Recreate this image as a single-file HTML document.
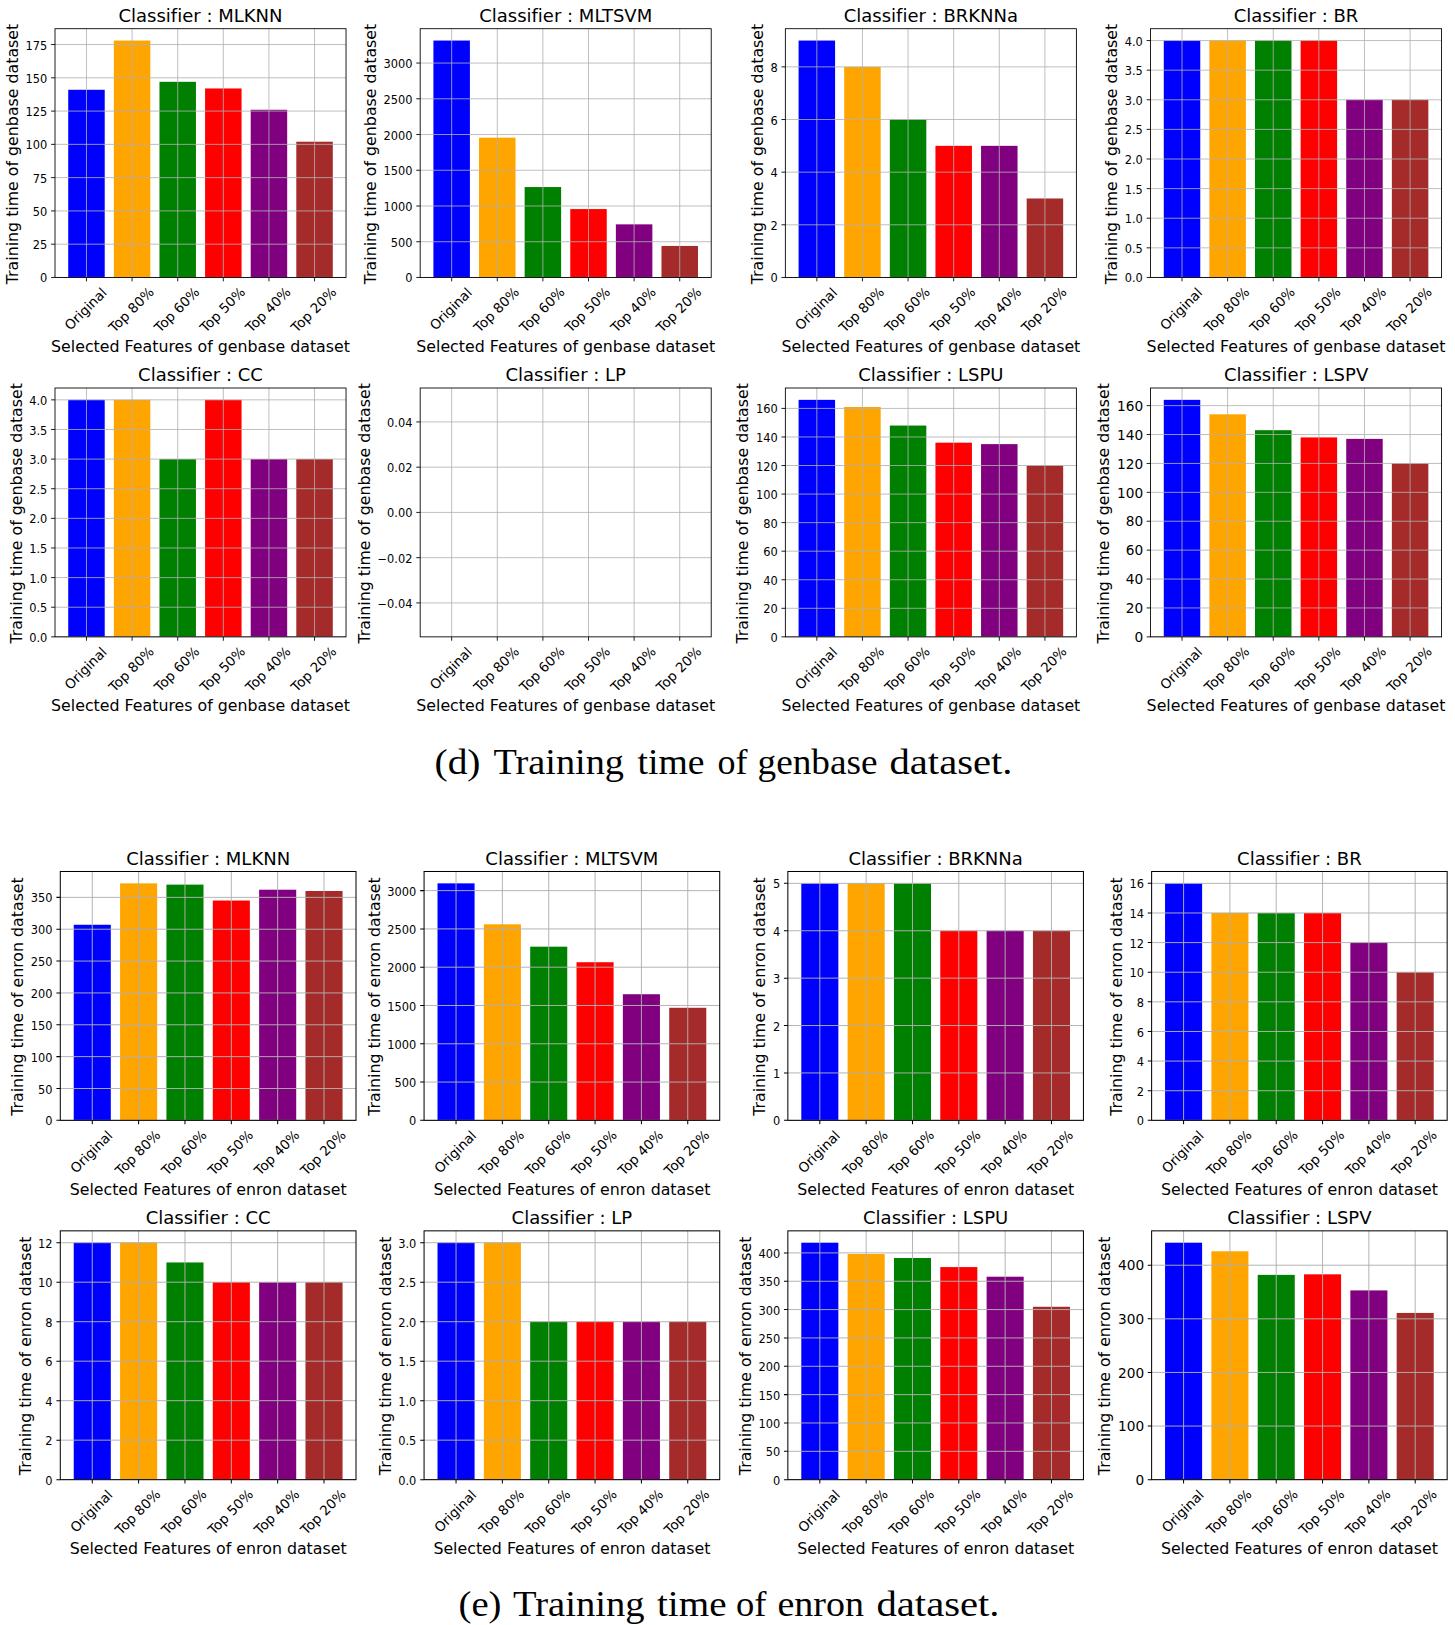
<!DOCTYPE html>
<html lang="en"><head><meta charset="utf-8"><title>Training time figures</title>
<style>
html,body{margin:0;padding:0;background:#fff;}
body{width:1455px;height:1625px;overflow:hidden;}
svg{display:block;}
svg text{font-family:"DejaVu Sans","Liberation Sans",sans-serif;fill:#000;font-variant-ligatures:none;font-kerning:normal;}
svg .cap text{font-family:"Liberation Serif","DejaVu Serif",serif;}
</style></head><body>
<svg width="1455" height="1625" viewBox="0 0 1455 1625">
<rect width="1455" height="1625" fill="#fff"/>
<g>
<rect x="68.23" y="89.79" width="36.49" height="187.67" fill="#0000ff"/>
<rect x="113.84" y="40.55" width="36.49" height="236.91" fill="#ffa500"/>
<rect x="159.46" y="81.81" width="36.49" height="195.65" fill="#008000"/>
<rect x="205.08" y="88.46" width="36.49" height="189.00" fill="#ff0000"/>
<rect x="250.69" y="109.76" width="36.49" height="167.70" fill="#800080"/>
<rect x="296.31" y="141.70" width="36.49" height="135.76" fill="#a52a2a"/>
<path d="M86.48 28.70V277.46M132.09 28.70V277.46M177.71 28.70V277.46M223.32 28.70V277.46M268.94 28.70V277.46M314.55 28.70V277.46M55.00 277.46H346.03M55.00 244.19H346.03M55.00 210.91H346.03M55.00 177.64H346.03M55.00 144.36H346.03M55.00 111.09H346.03M55.00 77.81H346.03M55.00 44.54H346.03" stroke="#b0b0b0" stroke-width="0.82" fill="none"/>
<path d="M86.48 277.46v3.90M132.09 277.46v3.90M177.71 277.46v3.90M223.32 277.46v3.90M268.94 277.46v3.90M314.55 277.46v3.90M55.00 277.46h-3.90M55.00 244.19h-3.90M55.00 210.91h-3.90M55.00 177.64h-3.90M55.00 144.36h-3.90M55.00 111.09h-3.90M55.00 77.81h-3.90M55.00 44.54h-3.90" stroke="#000" stroke-width="0.88" fill="none"/>
<rect x="55.00" y="28.70" width="291.03" height="248.76" fill="none" stroke="#000" stroke-width="0.88"/>
<g font-size="11.4" text-anchor="end">
<text x="47.30" y="282.49">0</text>
<text x="47.30" y="249.22">25</text>
<text x="47.30" y="215.94">50</text>
<text x="47.30" y="182.67">75</text>
<text x="47.30" y="149.39">100</text>
<text x="47.30" y="116.12">125</text>
<text x="47.30" y="82.84">150</text>
<text x="47.30" y="49.57">175</text>
</g>
<g font-size="13.5" text-anchor="middle">
<text transform="translate(86.48 309.82) rotate(-45)" y="3.54">Original</text>
<text transform="translate(132.09 310.63) rotate(-45)" y="3.54">Top 80%</text>
<text transform="translate(177.71 310.63) rotate(-45)" y="3.54">Top 60%</text>
<text transform="translate(223.32 310.63) rotate(-45)" y="3.54">Top 50%</text>
<text transform="translate(268.94 310.63) rotate(-45)" y="3.54">Top 40%</text>
<text transform="translate(314.55 310.63) rotate(-45)" y="3.54">Top 20%</text>
</g>
<text x="200.51" y="21.80" font-size="18.0" text-anchor="middle">Classifier : MLKNN</text>
<text x="200.51" y="351.96" font-size="15.8" text-anchor="middle">Selected Features of genbase dataset</text>
<text transform="translate(18.01 153.98) rotate(-90)" font-size="15.8" text-anchor="middle">Training time of genbase dataset</text>
</g>
<g>
<rect x="433.41" y="40.55" width="36.49" height="236.91" fill="#0000ff"/>
<rect x="479.02" y="137.67" width="36.49" height="139.79" fill="#ffa500"/>
<rect x="524.64" y="187.05" width="36.49" height="90.41" fill="#008000"/>
<rect x="570.26" y="209.07" width="36.49" height="68.39" fill="#ff0000"/>
<rect x="615.87" y="224.36" width="36.49" height="53.10" fill="#800080"/>
<rect x="661.49" y="245.94" width="36.49" height="31.52" fill="#a52a2a"/>
<path d="M451.66 28.70V277.46M497.27 28.70V277.46M542.89 28.70V277.46M588.50 28.70V277.46M634.12 28.70V277.46M679.73 28.70V277.46M420.18 277.46H711.21M420.18 241.73H711.21M420.18 205.99H711.21M420.18 170.26H711.21M420.18 134.53H711.21M420.18 98.79H711.21M420.18 63.06H711.21" stroke="#b0b0b0" stroke-width="0.82" fill="none"/>
<path d="M451.66 277.46v3.90M497.27 277.46v3.90M542.89 277.46v3.90M588.50 277.46v3.90M634.12 277.46v3.90M679.73 277.46v3.90M420.18 277.46h-3.90M420.18 241.73h-3.90M420.18 205.99h-3.90M420.18 170.26h-3.90M420.18 134.53h-3.90M420.18 98.79h-3.90M420.18 63.06h-3.90" stroke="#000" stroke-width="0.88" fill="none"/>
<rect x="420.18" y="28.70" width="291.03" height="248.76" fill="none" stroke="#000" stroke-width="0.88"/>
<g font-size="11.4" text-anchor="end">
<text x="412.48" y="282.49">0</text>
<text x="412.48" y="246.76">500</text>
<text x="412.48" y="211.02">1000</text>
<text x="412.48" y="175.29">1500</text>
<text x="412.48" y="139.56">2000</text>
<text x="412.48" y="103.82">2500</text>
<text x="412.48" y="68.09">3000</text>
</g>
<g font-size="13.5" text-anchor="middle">
<text transform="translate(451.66 309.82) rotate(-45)" y="3.54">Original</text>
<text transform="translate(497.27 310.63) rotate(-45)" y="3.54">Top 80%</text>
<text transform="translate(542.89 310.63) rotate(-45)" y="3.54">Top 60%</text>
<text transform="translate(588.50 310.63) rotate(-45)" y="3.54">Top 50%</text>
<text transform="translate(634.12 310.63) rotate(-45)" y="3.54">Top 40%</text>
<text transform="translate(679.73 310.63) rotate(-45)" y="3.54">Top 20%</text>
</g>
<text x="565.70" y="21.80" font-size="18.0" text-anchor="middle">Classifier : MLTSVM</text>
<text x="565.70" y="351.96" font-size="15.8" text-anchor="middle">Selected Features of genbase dataset</text>
<text transform="translate(375.94 153.98) rotate(-90)" font-size="15.8" text-anchor="middle">Training time of genbase dataset</text>
</g>
<g>
<rect x="798.59" y="40.55" width="36.49" height="236.91" fill="#0000ff"/>
<rect x="844.20" y="66.87" width="36.49" height="210.59" fill="#ffa500"/>
<rect x="889.82" y="119.52" width="36.49" height="157.94" fill="#008000"/>
<rect x="935.44" y="145.84" width="36.49" height="131.62" fill="#ff0000"/>
<rect x="981.05" y="145.84" width="36.49" height="131.62" fill="#800080"/>
<rect x="1026.67" y="198.49" width="36.49" height="78.97" fill="#a52a2a"/>
<path d="M816.84 28.70V277.46M862.45 28.70V277.46M908.07 28.70V277.46M953.68 28.70V277.46M999.30 28.70V277.46M1044.91 28.70V277.46M785.36 277.46H1076.39M785.36 224.81H1076.39M785.36 172.16H1076.39M785.36 119.52H1076.39M785.36 66.87H1076.39" stroke="#b0b0b0" stroke-width="0.82" fill="none"/>
<path d="M816.84 277.46v3.90M862.45 277.46v3.90M908.07 277.46v3.90M953.68 277.46v3.90M999.30 277.46v3.90M1044.91 277.46v3.90M785.36 277.46h-3.90M785.36 224.81h-3.90M785.36 172.16h-3.90M785.36 119.52h-3.90M785.36 66.87h-3.90" stroke="#000" stroke-width="0.88" fill="none"/>
<rect x="785.36" y="28.70" width="291.03" height="248.76" fill="none" stroke="#000" stroke-width="0.88"/>
<g font-size="11.4" text-anchor="end">
<text x="777.66" y="282.49">0</text>
<text x="777.66" y="229.84">2</text>
<text x="777.66" y="177.19">4</text>
<text x="777.66" y="124.55">6</text>
<text x="777.66" y="71.90">8</text>
</g>
<g font-size="13.5" text-anchor="middle">
<text transform="translate(816.84 309.82) rotate(-45)" y="3.54">Original</text>
<text transform="translate(862.45 310.63) rotate(-45)" y="3.54">Top 80%</text>
<text transform="translate(908.07 310.63) rotate(-45)" y="3.54">Top 60%</text>
<text transform="translate(953.68 310.63) rotate(-45)" y="3.54">Top 50%</text>
<text transform="translate(999.30 310.63) rotate(-45)" y="3.54">Top 40%</text>
<text transform="translate(1044.91 310.63) rotate(-45)" y="3.54">Top 20%</text>
</g>
<text x="930.88" y="21.80" font-size="18.0" text-anchor="middle">Classifier : BRKNNa</text>
<text x="930.88" y="351.96" font-size="15.8" text-anchor="middle">Selected Features of genbase dataset</text>
<text transform="translate(762.87 153.98) rotate(-90)" font-size="15.8" text-anchor="middle">Training time of genbase dataset</text>
</g>
<g>
<rect x="1163.77" y="40.55" width="36.49" height="236.91" fill="#0000ff"/>
<rect x="1209.38" y="40.55" width="36.49" height="236.91" fill="#ffa500"/>
<rect x="1255.00" y="40.55" width="36.49" height="236.91" fill="#008000"/>
<rect x="1300.62" y="40.55" width="36.49" height="236.91" fill="#ff0000"/>
<rect x="1346.23" y="99.77" width="36.49" height="177.69" fill="#800080"/>
<rect x="1391.85" y="99.77" width="36.49" height="177.69" fill="#a52a2a"/>
<path d="M1182.02 28.70V277.46M1227.63 28.70V277.46M1273.25 28.70V277.46M1318.86 28.70V277.46M1364.48 28.70V277.46M1410.09 28.70V277.46M1150.54 277.46H1441.57M1150.54 247.85H1441.57M1150.54 218.23H1441.57M1150.54 188.62H1441.57M1150.54 159.00H1441.57M1150.54 129.39H1441.57M1150.54 99.77H1441.57M1150.54 70.16H1441.57M1150.54 40.55H1441.57" stroke="#b0b0b0" stroke-width="0.82" fill="none"/>
<path d="M1182.02 277.46v3.90M1227.63 277.46v3.90M1273.25 277.46v3.90M1318.86 277.46v3.90M1364.48 277.46v3.90M1410.09 277.46v3.90M1150.54 277.46h-3.90M1150.54 247.85h-3.90M1150.54 218.23h-3.90M1150.54 188.62h-3.90M1150.54 159.00h-3.90M1150.54 129.39h-3.90M1150.54 99.77h-3.90M1150.54 70.16h-3.90M1150.54 40.55h-3.90" stroke="#000" stroke-width="0.88" fill="none"/>
<rect x="1150.54" y="28.70" width="291.03" height="248.76" fill="none" stroke="#000" stroke-width="0.88"/>
<g font-size="11.4" text-anchor="end">
<text x="1142.84" y="282.49">0.0</text>
<text x="1142.84" y="252.88">0.5</text>
<text x="1142.84" y="223.26">1.0</text>
<text x="1142.84" y="193.65">1.5</text>
<text x="1142.84" y="164.03">2.0</text>
<text x="1142.84" y="134.42">2.5</text>
<text x="1142.84" y="104.80">3.0</text>
<text x="1142.84" y="75.19">3.5</text>
<text x="1142.84" y="45.58">4.0</text>
</g>
<g font-size="13.5" text-anchor="middle">
<text transform="translate(1182.02 309.82) rotate(-45)" y="3.54">Original</text>
<text transform="translate(1227.63 310.63) rotate(-45)" y="3.54">Top 80%</text>
<text transform="translate(1273.25 310.63) rotate(-45)" y="3.54">Top 60%</text>
<text transform="translate(1318.86 310.63) rotate(-45)" y="3.54">Top 50%</text>
<text transform="translate(1364.48 310.63) rotate(-45)" y="3.54">Top 40%</text>
<text transform="translate(1410.09 310.63) rotate(-45)" y="3.54">Top 20%</text>
</g>
<text x="1296.05" y="21.80" font-size="18.0" text-anchor="middle">Classifier : BR</text>
<text x="1296.05" y="351.96" font-size="15.8" text-anchor="middle">Selected Features of genbase dataset</text>
<text transform="translate(1117.17 153.98) rotate(-90)" font-size="15.8" text-anchor="middle">Training time of genbase dataset</text>
</g>
<g>
<rect x="68.23" y="399.85" width="36.49" height="237.00" fill="#0000ff"/>
<rect x="113.84" y="399.85" width="36.49" height="237.00" fill="#ffa500"/>
<rect x="159.46" y="459.10" width="36.49" height="177.75" fill="#008000"/>
<rect x="205.08" y="399.85" width="36.49" height="237.00" fill="#ff0000"/>
<rect x="250.69" y="459.10" width="36.49" height="177.75" fill="#800080"/>
<rect x="296.31" y="459.10" width="36.49" height="177.75" fill="#a52a2a"/>
<path d="M86.48 388.00V636.85M132.09 388.00V636.85M177.71 388.00V636.85M223.32 388.00V636.85M268.94 388.00V636.85M314.55 388.00V636.85M55.00 636.85H346.03M55.00 607.23H346.03M55.00 577.60H346.03M55.00 547.98H346.03M55.00 518.35H346.03M55.00 488.73H346.03M55.00 459.10H346.03M55.00 429.48H346.03M55.00 399.85H346.03" stroke="#b0b0b0" stroke-width="0.82" fill="none"/>
<path d="M86.48 636.85v3.90M132.09 636.85v3.90M177.71 636.85v3.90M223.32 636.85v3.90M268.94 636.85v3.90M314.55 636.85v3.90M55.00 636.85h-3.90M55.00 607.23h-3.90M55.00 577.60h-3.90M55.00 547.98h-3.90M55.00 518.35h-3.90M55.00 488.73h-3.90M55.00 459.10h-3.90M55.00 429.48h-3.90M55.00 399.85h-3.90" stroke="#000" stroke-width="0.88" fill="none"/>
<rect x="55.00" y="388.00" width="291.03" height="248.85" fill="none" stroke="#000" stroke-width="0.88"/>
<g font-size="11.4" text-anchor="end">
<text x="47.30" y="641.88">0.0</text>
<text x="47.30" y="612.25">0.5</text>
<text x="47.30" y="582.63">1.0</text>
<text x="47.30" y="553.00">1.5</text>
<text x="47.30" y="523.38">2.0</text>
<text x="47.30" y="493.75">2.5</text>
<text x="47.30" y="464.13">3.0</text>
<text x="47.30" y="434.50">3.5</text>
<text x="47.30" y="404.88">4.0</text>
</g>
<g font-size="13.5" text-anchor="middle">
<text transform="translate(86.48 669.21) rotate(-45)" y="3.54">Original</text>
<text transform="translate(132.09 670.02) rotate(-45)" y="3.54">Top 80%</text>
<text transform="translate(177.71 670.02) rotate(-45)" y="3.54">Top 60%</text>
<text transform="translate(223.32 670.02) rotate(-45)" y="3.54">Top 50%</text>
<text transform="translate(268.94 670.02) rotate(-45)" y="3.54">Top 40%</text>
<text transform="translate(314.55 670.02) rotate(-45)" y="3.54">Top 20%</text>
</g>
<text x="200.51" y="381.10" font-size="18.0" text-anchor="middle">Classifier : CC</text>
<text x="200.51" y="711.35" font-size="15.8" text-anchor="middle">Selected Features of genbase dataset</text>
<text transform="translate(21.63 513.32) rotate(-90)" font-size="15.8" text-anchor="middle">Training time of genbase dataset</text>
</g>
<g>
<path d="M451.66 388.00V636.85M497.27 388.00V636.85M542.89 388.00V636.85M588.50 388.00V636.85M634.12 388.00V636.85M679.73 388.00V636.85M420.18 602.92H711.21M420.18 557.67H711.21M420.18 512.42H711.21M420.18 467.18H711.21M420.18 421.93H711.21" stroke="#b0b0b0" stroke-width="0.82" fill="none"/>
<path d="M451.66 636.85v3.90M497.27 636.85v3.90M542.89 636.85v3.90M588.50 636.85v3.90M634.12 636.85v3.90M679.73 636.85v3.90M420.18 602.92h-3.90M420.18 557.67h-3.90M420.18 512.42h-3.90M420.18 467.18h-3.90M420.18 421.93h-3.90" stroke="#000" stroke-width="0.88" fill="none"/>
<rect x="420.18" y="388.00" width="291.03" height="248.85" fill="none" stroke="#000" stroke-width="0.88"/>
<g font-size="11.4" text-anchor="end">
<text x="412.48" y="607.95">−0.04</text>
<text x="412.48" y="562.70">−0.02</text>
<text x="412.48" y="517.45">0.00</text>
<text x="412.48" y="472.21">0.02</text>
<text x="412.48" y="426.96">0.04</text>
</g>
<g font-size="13.5" text-anchor="middle">
<text transform="translate(451.66 669.21) rotate(-45)" y="3.54">Original</text>
<text transform="translate(497.27 670.02) rotate(-45)" y="3.54">Top 80%</text>
<text transform="translate(542.89 670.02) rotate(-45)" y="3.54">Top 60%</text>
<text transform="translate(588.50 670.02) rotate(-45)" y="3.54">Top 50%</text>
<text transform="translate(634.12 670.02) rotate(-45)" y="3.54">Top 40%</text>
<text transform="translate(679.73 670.02) rotate(-45)" y="3.54">Top 20%</text>
</g>
<text x="565.70" y="381.10" font-size="18.0" text-anchor="middle">Classifier : LP</text>
<text x="565.70" y="711.35" font-size="15.8" text-anchor="middle">Selected Features of genbase dataset</text>
<text transform="translate(370.01 513.32) rotate(-90)" font-size="15.8" text-anchor="middle">Training time of genbase dataset</text>
</g>
<g>
<rect x="798.59" y="399.85" width="36.49" height="237.00" fill="#0000ff"/>
<rect x="844.20" y="406.99" width="36.49" height="229.86" fill="#ffa500"/>
<rect x="889.82" y="425.55" width="36.49" height="211.30" fill="#008000"/>
<rect x="935.44" y="442.68" width="36.49" height="194.17" fill="#ff0000"/>
<rect x="981.05" y="444.11" width="36.49" height="192.74" fill="#800080"/>
<rect x="1026.67" y="465.52" width="36.49" height="171.33" fill="#a52a2a"/>
<path d="M816.84 388.00V636.85M862.45 388.00V636.85M908.07 388.00V636.85M953.68 388.00V636.85M999.30 388.00V636.85M1044.91 388.00V636.85M785.36 636.85H1076.39M785.36 608.30H1076.39M785.36 579.74H1076.39M785.36 551.19H1076.39M785.36 522.63H1076.39M785.36 494.08H1076.39M785.36 465.52H1076.39M785.36 436.97H1076.39M785.36 408.42H1076.39" stroke="#b0b0b0" stroke-width="0.82" fill="none"/>
<path d="M816.84 636.85v3.90M862.45 636.85v3.90M908.07 636.85v3.90M953.68 636.85v3.90M999.30 636.85v3.90M1044.91 636.85v3.90M785.36 636.85h-3.90M785.36 608.30h-3.90M785.36 579.74h-3.90M785.36 551.19h-3.90M785.36 522.63h-3.90M785.36 494.08h-3.90M785.36 465.52h-3.90M785.36 436.97h-3.90M785.36 408.42h-3.90" stroke="#000" stroke-width="0.88" fill="none"/>
<rect x="785.36" y="388.00" width="291.03" height="248.85" fill="none" stroke="#000" stroke-width="0.88"/>
<g font-size="11.4" text-anchor="end">
<text x="777.66" y="641.88">0</text>
<text x="777.66" y="613.33">20</text>
<text x="777.66" y="584.77">40</text>
<text x="777.66" y="556.22">60</text>
<text x="777.66" y="527.66">80</text>
<text x="777.66" y="499.11">100</text>
<text x="777.66" y="470.55">120</text>
<text x="777.66" y="442.00">140</text>
<text x="777.66" y="413.45">160</text>
</g>
<g font-size="13.5" text-anchor="middle">
<text transform="translate(816.84 669.21) rotate(-45)" y="3.54">Original</text>
<text transform="translate(862.45 670.02) rotate(-45)" y="3.54">Top 80%</text>
<text transform="translate(908.07 670.02) rotate(-45)" y="3.54">Top 60%</text>
<text transform="translate(953.68 670.02) rotate(-45)" y="3.54">Top 50%</text>
<text transform="translate(999.30 670.02) rotate(-45)" y="3.54">Top 40%</text>
<text transform="translate(1044.91 670.02) rotate(-45)" y="3.54">Top 20%</text>
</g>
<text x="930.88" y="381.10" font-size="18.0" text-anchor="middle">Classifier : LSPU</text>
<text x="930.88" y="711.35" font-size="15.8" text-anchor="middle">Selected Features of genbase dataset</text>
<text transform="translate(748.37 513.32) rotate(-90)" font-size="15.8" text-anchor="middle">Training time of genbase dataset</text>
</g>
<g>
<rect x="1163.77" y="399.85" width="36.49" height="237.00" fill="#0000ff"/>
<rect x="1209.38" y="414.30" width="36.49" height="222.55" fill="#ffa500"/>
<rect x="1255.00" y="430.20" width="36.49" height="206.65" fill="#008000"/>
<rect x="1300.62" y="437.42" width="36.49" height="199.43" fill="#ff0000"/>
<rect x="1346.23" y="438.87" width="36.49" height="197.98" fill="#800080"/>
<rect x="1391.85" y="463.44" width="36.49" height="173.41" fill="#a52a2a"/>
<path d="M1182.02 388.00V636.85M1227.63 388.00V636.85M1273.25 388.00V636.85M1318.86 388.00V636.85M1364.48 388.00V636.85M1410.09 388.00V636.85M1150.54 636.85H1441.57M1150.54 607.95H1441.57M1150.54 579.05H1441.57M1150.54 550.14H1441.57M1150.54 521.24H1441.57M1150.54 492.34H1441.57M1150.54 463.44H1441.57M1150.54 434.53H1441.57M1150.54 405.63H1441.57" stroke="#b0b0b0" stroke-width="0.82" fill="none"/>
<path d="M1182.02 636.85v3.90M1227.63 636.85v3.90M1273.25 636.85v3.90M1318.86 636.85v3.90M1364.48 636.85v3.90M1410.09 636.85v3.90M1150.54 636.85h-3.90M1150.54 607.95h-3.90M1150.54 579.05h-3.90M1150.54 550.14h-3.90M1150.54 521.24h-3.90M1150.54 492.34h-3.90M1150.54 463.44h-3.90M1150.54 434.53h-3.90M1150.54 405.63h-3.90" stroke="#000" stroke-width="0.88" fill="none"/>
<rect x="1150.54" y="388.00" width="291.03" height="248.85" fill="none" stroke="#000" stroke-width="0.88"/>
<g font-size="13.7" text-anchor="end">
<text x="1143.14" y="642.10">0</text>
<text x="1143.14" y="613.20">20</text>
<text x="1143.14" y="584.30">40</text>
<text x="1143.14" y="555.39">60</text>
<text x="1143.14" y="526.49">80</text>
<text x="1143.14" y="497.59">100</text>
<text x="1143.14" y="468.69">120</text>
<text x="1143.14" y="439.78">140</text>
<text x="1143.14" y="410.88">160</text>
</g>
<g font-size="13.5" text-anchor="middle">
<text transform="translate(1182.02 669.21) rotate(-45)" y="3.54">Original</text>
<text transform="translate(1227.63 670.02) rotate(-45)" y="3.54">Top 80%</text>
<text transform="translate(1273.25 670.02) rotate(-45)" y="3.54">Top 60%</text>
<text transform="translate(1318.86 670.02) rotate(-45)" y="3.54">Top 50%</text>
<text transform="translate(1364.48 670.02) rotate(-45)" y="3.54">Top 40%</text>
<text transform="translate(1410.09 670.02) rotate(-45)" y="3.54">Top 20%</text>
</g>
<text x="1296.05" y="381.10" font-size="18.0" text-anchor="middle">Classifier : LSPV</text>
<text x="1296.05" y="711.35" font-size="15.8" text-anchor="middle">Selected Features of genbase dataset</text>
<text transform="translate(1109.16 513.32) rotate(-90)" font-size="15.8" text-anchor="middle">Training time of genbase dataset</text>
</g>
<g>
<rect x="73.73" y="924.76" width="37.08" height="195.58" fill="#0000ff"/>
<rect x="120.08" y="883.35" width="37.08" height="236.99" fill="#ffa500"/>
<rect x="166.43" y="884.62" width="37.08" height="235.72" fill="#008000"/>
<rect x="212.78" y="900.55" width="37.08" height="219.79" fill="#ff0000"/>
<rect x="259.13" y="889.72" width="37.08" height="230.62" fill="#800080"/>
<rect x="305.48" y="890.99" width="37.08" height="229.35" fill="#a52a2a"/>
<path d="M92.27 871.50V1120.34M138.62 871.50V1120.34M184.97 871.50V1120.34M231.32 871.50V1120.34M277.67 871.50V1120.34M324.02 871.50V1120.34M60.29 1120.34H356.00M60.29 1088.49H356.00M60.29 1056.63H356.00M60.29 1024.78H356.00M60.29 992.93H356.00M60.29 961.07H356.00M60.29 929.22H356.00M60.29 897.37H356.00" stroke="#b0b0b0" stroke-width="0.95" fill="none"/>
<path d="M92.27 1120.34v3.90M138.62 1120.34v3.90M184.97 1120.34v3.90M231.32 1120.34v3.90M277.67 1120.34v3.90M324.02 1120.34v3.90M60.29 1120.34h-3.90M60.29 1088.49h-3.90M60.29 1056.63h-3.90M60.29 1024.78h-3.90M60.29 992.93h-3.90M60.29 961.07h-3.90M60.29 929.22h-3.90M60.29 897.37h-3.90" stroke="#000" stroke-width="1.02" fill="none"/>
<rect x="60.29" y="871.50" width="295.71" height="248.84" fill="none" stroke="#000" stroke-width="1.02"/>
<g font-size="11.4" text-anchor="end">
<text x="52.59" y="1125.37">0</text>
<text x="52.59" y="1093.52">50</text>
<text x="52.59" y="1061.66">100</text>
<text x="52.59" y="1029.81">150</text>
<text x="52.59" y="997.96">200</text>
<text x="52.59" y="966.10">250</text>
<text x="52.59" y="934.25">300</text>
<text x="52.59" y="902.40">350</text>
</g>
<g font-size="13.5" text-anchor="middle">
<text transform="translate(92.27 1152.70) rotate(-45)" y="3.54">Original</text>
<text transform="translate(138.62 1153.51) rotate(-45)" y="3.54">Top 80%</text>
<text transform="translate(184.97 1153.51) rotate(-45)" y="3.54">Top 60%</text>
<text transform="translate(231.32 1153.51) rotate(-45)" y="3.54">Top 50%</text>
<text transform="translate(277.67 1153.51) rotate(-45)" y="3.54">Top 40%</text>
<text transform="translate(324.02 1153.51) rotate(-45)" y="3.54">Top 20%</text>
</g>
<text x="208.15" y="864.60" font-size="18.0" text-anchor="middle">Classifier : MLKNN</text>
<text x="208.15" y="1194.64" font-size="15.8" text-anchor="middle">Selected Features of enron dataset</text>
<text transform="translate(23.30 996.52) rotate(-90)" font-size="15.8" text-anchor="middle">Training time of enron dataset</text>
</g>
<g>
<rect x="437.51" y="883.35" width="37.07" height="236.99" fill="#0000ff"/>
<rect x="483.85" y="924.32" width="37.07" height="196.02" fill="#ffa500"/>
<rect x="530.19" y="946.67" width="37.07" height="173.67" fill="#008000"/>
<rect x="576.53" y="962.22" width="37.07" height="158.12" fill="#ff0000"/>
<rect x="622.87" y="994.23" width="37.07" height="126.11" fill="#800080"/>
<rect x="669.21" y="1007.78" width="37.07" height="112.56" fill="#a52a2a"/>
<path d="M456.04 871.50V1120.34M502.38 871.50V1120.34M548.72 871.50V1120.34M595.07 871.50V1120.34M641.41 871.50V1120.34M687.75 871.50V1120.34M424.07 1120.34H719.72M424.07 1082.05H719.72M424.07 1043.77H719.72M424.07 1005.48H719.72M424.07 967.20H719.72M424.07 928.91H719.72M424.07 890.62H719.72" stroke="#b0b0b0" stroke-width="0.95" fill="none"/>
<path d="M456.04 1120.34v3.90M502.38 1120.34v3.90M548.72 1120.34v3.90M595.07 1120.34v3.90M641.41 1120.34v3.90M687.75 1120.34v3.90M424.07 1120.34h-3.90M424.07 1082.05h-3.90M424.07 1043.77h-3.90M424.07 1005.48h-3.90M424.07 967.20h-3.90M424.07 928.91h-3.90M424.07 890.62h-3.90" stroke="#000" stroke-width="1.02" fill="none"/>
<rect x="424.07" y="871.50" width="295.65" height="248.84" fill="none" stroke="#000" stroke-width="1.02"/>
<g font-size="11.4" text-anchor="end">
<text x="416.37" y="1125.37">0</text>
<text x="416.37" y="1087.08">500</text>
<text x="416.37" y="1048.80">1000</text>
<text x="416.37" y="1010.51">1500</text>
<text x="416.37" y="972.23">2000</text>
<text x="416.37" y="933.94">2500</text>
<text x="416.37" y="895.65">3000</text>
</g>
<g font-size="13.5" text-anchor="middle">
<text transform="translate(456.04 1152.70) rotate(-45)" y="3.54">Original</text>
<text transform="translate(502.38 1153.51) rotate(-45)" y="3.54">Top 80%</text>
<text transform="translate(548.72 1153.51) rotate(-45)" y="3.54">Top 60%</text>
<text transform="translate(595.07 1153.51) rotate(-45)" y="3.54">Top 50%</text>
<text transform="translate(641.41 1153.51) rotate(-45)" y="3.54">Top 40%</text>
<text transform="translate(687.75 1153.51) rotate(-45)" y="3.54">Top 20%</text>
</g>
<text x="571.89" y="864.60" font-size="18.0" text-anchor="middle">Classifier : MLTSVM</text>
<text x="571.89" y="1194.64" font-size="15.8" text-anchor="middle">Selected Features of enron dataset</text>
<text transform="translate(379.83 996.52) rotate(-90)" font-size="15.8" text-anchor="middle">Training time of enron dataset</text>
</g>
<g>
<rect x="801.29" y="883.35" width="37.06" height="236.99" fill="#0000ff"/>
<rect x="847.62" y="883.35" width="37.06" height="236.99" fill="#ffa500"/>
<rect x="893.95" y="883.35" width="37.06" height="236.99" fill="#008000"/>
<rect x="940.28" y="930.75" width="37.06" height="189.59" fill="#ff0000"/>
<rect x="986.61" y="930.75" width="37.06" height="189.59" fill="#800080"/>
<rect x="1032.94" y="930.75" width="37.06" height="189.59" fill="#a52a2a"/>
<path d="M819.82 871.50V1120.34M866.15 871.50V1120.34M912.48 871.50V1120.34M958.81 871.50V1120.34M1005.14 871.50V1120.34M1051.47 871.50V1120.34M787.85 1120.34H1083.44M787.85 1072.94H1083.44M787.85 1025.54H1083.44M787.85 978.15H1083.44M787.85 930.75H1083.44M787.85 883.35H1083.44" stroke="#b0b0b0" stroke-width="0.95" fill="none"/>
<path d="M819.82 1120.34v3.90M866.15 1120.34v3.90M912.48 1120.34v3.90M958.81 1120.34v3.90M1005.14 1120.34v3.90M1051.47 1120.34v3.90M787.85 1120.34h-3.90M787.85 1072.94h-3.90M787.85 1025.54h-3.90M787.85 978.15h-3.90M787.85 930.75h-3.90M787.85 883.35h-3.90" stroke="#000" stroke-width="1.02" fill="none"/>
<rect x="787.85" y="871.50" width="295.59" height="248.84" fill="none" stroke="#000" stroke-width="1.02"/>
<g font-size="11.4" text-anchor="end">
<text x="780.15" y="1125.37">0</text>
<text x="780.15" y="1077.97">1</text>
<text x="780.15" y="1030.57">2</text>
<text x="780.15" y="983.18">3</text>
<text x="780.15" y="935.78">4</text>
<text x="780.15" y="888.38">5</text>
</g>
<g font-size="13.5" text-anchor="middle">
<text transform="translate(819.82 1152.70) rotate(-45)" y="3.54">Original</text>
<text transform="translate(866.15 1153.51) rotate(-45)" y="3.54">Top 80%</text>
<text transform="translate(912.48 1153.51) rotate(-45)" y="3.54">Top 60%</text>
<text transform="translate(958.81 1153.51) rotate(-45)" y="3.54">Top 50%</text>
<text transform="translate(1005.14 1153.51) rotate(-45)" y="3.54">Top 40%</text>
<text transform="translate(1051.47 1153.51) rotate(-45)" y="3.54">Top 20%</text>
</g>
<text x="935.64" y="864.60" font-size="18.0" text-anchor="middle">Classifier : BRKNNa</text>
<text x="935.64" y="1194.64" font-size="15.8" text-anchor="middle">Selected Features of enron dataset</text>
<text transform="translate(765.36 996.52) rotate(-90)" font-size="15.8" text-anchor="middle">Training time of enron dataset</text>
</g>
<g>
<rect x="1165.05" y="883.35" width="37.06" height="236.99" fill="#0000ff"/>
<rect x="1211.38" y="912.97" width="37.06" height="207.37" fill="#ffa500"/>
<rect x="1257.70" y="912.97" width="37.06" height="207.37" fill="#008000"/>
<rect x="1304.02" y="912.97" width="37.06" height="207.37" fill="#ff0000"/>
<rect x="1350.35" y="942.60" width="37.06" height="177.74" fill="#800080"/>
<rect x="1396.67" y="972.22" width="37.06" height="148.12" fill="#a52a2a"/>
<path d="M1183.58 871.50V1120.34M1229.91 871.50V1120.34M1276.23 871.50V1120.34M1322.55 871.50V1120.34M1368.87 871.50V1120.34M1415.20 871.50V1120.34M1151.62 1120.34H1447.16M1151.62 1090.72H1447.16M1151.62 1061.09H1447.16M1151.62 1031.47H1447.16M1151.62 1001.84H1447.16M1151.62 972.22H1447.16M1151.62 942.60H1447.16M1151.62 912.97H1447.16M1151.62 883.35H1447.16" stroke="#b0b0b0" stroke-width="0.95" fill="none"/>
<path d="M1183.58 1120.34v3.90M1229.91 1120.34v3.90M1276.23 1120.34v3.90M1322.55 1120.34v3.90M1368.87 1120.34v3.90M1415.20 1120.34v3.90M1151.62 1120.34h-3.90M1151.62 1090.72h-3.90M1151.62 1061.09h-3.90M1151.62 1031.47h-3.90M1151.62 1001.84h-3.90M1151.62 972.22h-3.90M1151.62 942.60h-3.90M1151.62 912.97h-3.90M1151.62 883.35h-3.90" stroke="#000" stroke-width="1.02" fill="none"/>
<rect x="1151.62" y="871.50" width="295.54" height="248.84" fill="none" stroke="#000" stroke-width="1.02"/>
<g font-size="11.4" text-anchor="end">
<text x="1143.92" y="1125.37">0</text>
<text x="1143.92" y="1095.75">2</text>
<text x="1143.92" y="1066.12">4</text>
<text x="1143.92" y="1036.50">6</text>
<text x="1143.92" y="1006.87">8</text>
<text x="1143.92" y="977.25">10</text>
<text x="1143.92" y="947.63">12</text>
<text x="1143.92" y="918.00">14</text>
<text x="1143.92" y="888.38">16</text>
</g>
<g font-size="13.5" text-anchor="middle">
<text transform="translate(1183.58 1152.70) rotate(-45)" y="3.54">Original</text>
<text transform="translate(1229.91 1153.51) rotate(-45)" y="3.54">Top 80%</text>
<text transform="translate(1276.23 1153.51) rotate(-45)" y="3.54">Top 60%</text>
<text transform="translate(1322.55 1153.51) rotate(-45)" y="3.54">Top 50%</text>
<text transform="translate(1368.87 1153.51) rotate(-45)" y="3.54">Top 40%</text>
<text transform="translate(1415.20 1153.51) rotate(-45)" y="3.54">Top 20%</text>
</g>
<text x="1299.39" y="864.60" font-size="18.0" text-anchor="middle">Classifier : BR</text>
<text x="1299.39" y="1194.64" font-size="15.8" text-anchor="middle">Selected Features of enron dataset</text>
<text transform="translate(1121.88 996.52) rotate(-90)" font-size="15.8" text-anchor="middle">Training time of enron dataset</text>
</g>
<g>
<rect x="73.73" y="1242.70" width="37.08" height="236.97" fill="#0000ff"/>
<rect x="120.08" y="1242.70" width="37.08" height="236.97" fill="#ffa500"/>
<rect x="166.43" y="1262.45" width="37.08" height="217.22" fill="#008000"/>
<rect x="212.78" y="1282.19" width="37.08" height="197.48" fill="#ff0000"/>
<rect x="259.13" y="1282.19" width="37.08" height="197.48" fill="#800080"/>
<rect x="305.48" y="1282.19" width="37.08" height="197.48" fill="#a52a2a"/>
<path d="M92.27 1230.85V1479.67M138.62 1230.85V1479.67M184.97 1230.85V1479.67M231.32 1230.85V1479.67M277.67 1230.85V1479.67M324.02 1230.85V1479.67M60.29 1479.67H356.00M60.29 1440.17H356.00M60.29 1400.68H356.00M60.29 1361.18H356.00M60.29 1321.69H356.00M60.29 1282.19H356.00M60.29 1242.70H356.00" stroke="#b0b0b0" stroke-width="0.95" fill="none"/>
<path d="M92.27 1479.67v3.90M138.62 1479.67v3.90M184.97 1479.67v3.90M231.32 1479.67v3.90M277.67 1479.67v3.90M324.02 1479.67v3.90M60.29 1479.67h-3.90M60.29 1440.17h-3.90M60.29 1400.68h-3.90M60.29 1361.18h-3.90M60.29 1321.69h-3.90M60.29 1282.19h-3.90M60.29 1242.70h-3.90" stroke="#000" stroke-width="1.02" fill="none"/>
<rect x="60.29" y="1230.85" width="295.71" height="248.82" fill="none" stroke="#000" stroke-width="1.02"/>
<g font-size="11.4" text-anchor="end">
<text x="52.59" y="1484.70">0</text>
<text x="52.59" y="1445.20">2</text>
<text x="52.59" y="1405.71">4</text>
<text x="52.59" y="1366.21">6</text>
<text x="52.59" y="1326.72">8</text>
<text x="52.59" y="1287.22">10</text>
<text x="52.59" y="1247.73">12</text>
</g>
<g font-size="13.5" text-anchor="middle">
<text transform="translate(92.27 1512.03) rotate(-45)" y="3.54">Original</text>
<text transform="translate(138.62 1512.84) rotate(-45)" y="3.54">Top 80%</text>
<text transform="translate(184.97 1512.84) rotate(-45)" y="3.54">Top 60%</text>
<text transform="translate(231.32 1512.84) rotate(-45)" y="3.54">Top 50%</text>
<text transform="translate(277.67 1512.84) rotate(-45)" y="3.54">Top 40%</text>
<text transform="translate(324.02 1512.84) rotate(-45)" y="3.54">Top 20%</text>
</g>
<text x="208.15" y="1223.95" font-size="18.0" text-anchor="middle">Classifier : CC</text>
<text x="208.15" y="1553.97" font-size="15.8" text-anchor="middle">Selected Features of enron dataset</text>
<text transform="translate(30.55 1355.86) rotate(-90)" font-size="15.8" text-anchor="middle">Training time of enron dataset</text>
</g>
<g>
<rect x="437.51" y="1242.70" width="37.07" height="236.97" fill="#0000ff"/>
<rect x="483.85" y="1242.70" width="37.07" height="236.97" fill="#ffa500"/>
<rect x="530.19" y="1321.69" width="37.07" height="157.98" fill="#008000"/>
<rect x="576.53" y="1321.69" width="37.07" height="157.98" fill="#ff0000"/>
<rect x="622.87" y="1321.69" width="37.07" height="157.98" fill="#800080"/>
<rect x="669.21" y="1321.69" width="37.07" height="157.98" fill="#a52a2a"/>
<path d="M456.04 1230.85V1479.67M502.38 1230.85V1479.67M548.72 1230.85V1479.67M595.07 1230.85V1479.67M641.41 1230.85V1479.67M687.75 1230.85V1479.67M424.07 1479.67H719.72M424.07 1440.17H719.72M424.07 1400.68H719.72M424.07 1361.18H719.72M424.07 1321.69H719.72M424.07 1282.19H719.72M424.07 1242.70H719.72" stroke="#b0b0b0" stroke-width="0.95" fill="none"/>
<path d="M456.04 1479.67v3.90M502.38 1479.67v3.90M548.72 1479.67v3.90M595.07 1479.67v3.90M641.41 1479.67v3.90M687.75 1479.67v3.90M424.07 1479.67h-3.90M424.07 1440.17h-3.90M424.07 1400.68h-3.90M424.07 1361.18h-3.90M424.07 1321.69h-3.90M424.07 1282.19h-3.90M424.07 1242.70h-3.90" stroke="#000" stroke-width="1.02" fill="none"/>
<rect x="424.07" y="1230.85" width="295.65" height="248.82" fill="none" stroke="#000" stroke-width="1.02"/>
<g font-size="11.4" text-anchor="end">
<text x="416.37" y="1484.70">0.0</text>
<text x="416.37" y="1445.20">0.5</text>
<text x="416.37" y="1405.71">1.0</text>
<text x="416.37" y="1366.21">1.5</text>
<text x="416.37" y="1326.72">2.0</text>
<text x="416.37" y="1287.22">2.5</text>
<text x="416.37" y="1247.73">3.0</text>
</g>
<g font-size="13.5" text-anchor="middle">
<text transform="translate(456.04 1512.03) rotate(-45)" y="3.54">Original</text>
<text transform="translate(502.38 1512.84) rotate(-45)" y="3.54">Top 80%</text>
<text transform="translate(548.72 1512.84) rotate(-45)" y="3.54">Top 60%</text>
<text transform="translate(595.07 1512.84) rotate(-45)" y="3.54">Top 50%</text>
<text transform="translate(641.41 1512.84) rotate(-45)" y="3.54">Top 40%</text>
<text transform="translate(687.75 1512.84) rotate(-45)" y="3.54">Top 20%</text>
</g>
<text x="571.89" y="1223.95" font-size="18.0" text-anchor="middle">Classifier : LP</text>
<text x="571.89" y="1553.97" font-size="15.8" text-anchor="middle">Selected Features of enron dataset</text>
<text transform="translate(390.70 1355.86) rotate(-90)" font-size="15.8" text-anchor="middle">Training time of enron dataset</text>
</g>
<g>
<rect x="801.29" y="1242.70" width="37.06" height="236.97" fill="#0000ff"/>
<rect x="847.62" y="1254.04" width="37.06" height="225.63" fill="#ffa500"/>
<rect x="893.95" y="1258.01" width="37.06" height="221.66" fill="#008000"/>
<rect x="940.28" y="1267.08" width="37.06" height="212.59" fill="#ff0000"/>
<rect x="986.61" y="1276.71" width="37.06" height="202.96" fill="#800080"/>
<rect x="1032.94" y="1306.76" width="37.06" height="172.91" fill="#a52a2a"/>
<path d="M819.82 1230.85V1479.67M866.15 1230.85V1479.67M912.48 1230.85V1479.67M958.81 1230.85V1479.67M1005.14 1230.85V1479.67M1051.47 1230.85V1479.67M787.85 1479.67H1083.44M787.85 1451.32H1083.44M787.85 1422.98H1083.44M787.85 1394.63H1083.44M787.85 1366.29H1083.44M787.85 1337.94H1083.44M787.85 1309.59H1083.44M787.85 1281.25H1083.44M787.85 1252.90H1083.44" stroke="#b0b0b0" stroke-width="0.95" fill="none"/>
<path d="M819.82 1479.67v3.90M866.15 1479.67v3.90M912.48 1479.67v3.90M958.81 1479.67v3.90M1005.14 1479.67v3.90M1051.47 1479.67v3.90M787.85 1479.67h-3.90M787.85 1451.32h-3.90M787.85 1422.98h-3.90M787.85 1394.63h-3.90M787.85 1366.29h-3.90M787.85 1337.94h-3.90M787.85 1309.59h-3.90M787.85 1281.25h-3.90M787.85 1252.90h-3.90" stroke="#000" stroke-width="1.02" fill="none"/>
<rect x="787.85" y="1230.85" width="295.59" height="248.82" fill="none" stroke="#000" stroke-width="1.02"/>
<g font-size="11.4" text-anchor="end">
<text x="780.15" y="1484.70">0</text>
<text x="780.15" y="1456.35">50</text>
<text x="780.15" y="1428.01">100</text>
<text x="780.15" y="1399.66">150</text>
<text x="780.15" y="1371.32">200</text>
<text x="780.15" y="1342.97">250</text>
<text x="780.15" y="1314.62">300</text>
<text x="780.15" y="1286.28">350</text>
<text x="780.15" y="1257.93">400</text>
</g>
<g font-size="13.5" text-anchor="middle">
<text transform="translate(819.82 1512.03) rotate(-45)" y="3.54">Original</text>
<text transform="translate(866.15 1512.84) rotate(-45)" y="3.54">Top 80%</text>
<text transform="translate(912.48 1512.84) rotate(-45)" y="3.54">Top 60%</text>
<text transform="translate(958.81 1512.84) rotate(-45)" y="3.54">Top 50%</text>
<text transform="translate(1005.14 1512.84) rotate(-45)" y="3.54">Top 40%</text>
<text transform="translate(1051.47 1512.84) rotate(-45)" y="3.54">Top 20%</text>
</g>
<text x="935.64" y="1223.95" font-size="18.0" text-anchor="middle">Classifier : LSPU</text>
<text x="935.64" y="1553.97" font-size="15.8" text-anchor="middle">Selected Features of enron dataset</text>
<text transform="translate(750.86 1355.86) rotate(-90)" font-size="15.8" text-anchor="middle">Training time of enron dataset</text>
</g>
<g>
<rect x="1165.05" y="1242.70" width="37.06" height="236.97" fill="#0000ff"/>
<rect x="1211.38" y="1251.28" width="37.06" height="228.39" fill="#ffa500"/>
<rect x="1257.70" y="1274.87" width="37.06" height="204.80" fill="#008000"/>
<rect x="1304.02" y="1274.33" width="37.06" height="205.34" fill="#ff0000"/>
<rect x="1350.35" y="1290.41" width="37.06" height="189.26" fill="#800080"/>
<rect x="1396.67" y="1312.93" width="37.06" height="166.74" fill="#a52a2a"/>
<path d="M1183.58 1230.85V1479.67M1229.91 1230.85V1479.67M1276.23 1230.85V1479.67M1322.55 1230.85V1479.67M1368.87 1230.85V1479.67M1415.20 1230.85V1479.67M1151.62 1479.67H1447.16M1151.62 1426.06H1447.16M1151.62 1372.44H1447.16M1151.62 1318.83H1447.16M1151.62 1265.22H1447.16" stroke="#b0b0b0" stroke-width="0.95" fill="none"/>
<path d="M1183.58 1479.67v3.90M1229.91 1479.67v3.90M1276.23 1479.67v3.90M1322.55 1479.67v3.90M1368.87 1479.67v3.90M1415.20 1479.67v3.90M1151.62 1479.67h-3.90M1151.62 1426.06h-3.90M1151.62 1372.44h-3.90M1151.62 1318.83h-3.90M1151.62 1265.22h-3.90" stroke="#000" stroke-width="1.02" fill="none"/>
<rect x="1151.62" y="1230.85" width="295.54" height="248.82" fill="none" stroke="#000" stroke-width="1.02"/>
<g font-size="13.7" text-anchor="end">
<text x="1144.22" y="1484.92">0</text>
<text x="1144.22" y="1431.31">100</text>
<text x="1144.22" y="1377.69">200</text>
<text x="1144.22" y="1324.08">300</text>
<text x="1144.22" y="1270.47">400</text>
</g>
<g font-size="13.5" text-anchor="middle">
<text transform="translate(1183.58 1512.03) rotate(-45)" y="3.54">Original</text>
<text transform="translate(1229.91 1512.84) rotate(-45)" y="3.54">Top 80%</text>
<text transform="translate(1276.23 1512.84) rotate(-45)" y="3.54">Top 60%</text>
<text transform="translate(1322.55 1512.84) rotate(-45)" y="3.54">Top 50%</text>
<text transform="translate(1368.87 1512.84) rotate(-45)" y="3.54">Top 40%</text>
<text transform="translate(1415.20 1512.84) rotate(-45)" y="3.54">Top 20%</text>
</g>
<text x="1299.39" y="1223.95" font-size="18.0" text-anchor="middle">Classifier : LSPV</text>
<text x="1299.39" y="1553.97" font-size="15.8" text-anchor="middle">Selected Features of enron dataset</text>
<text transform="translate(1110.24 1355.86) rotate(-90)" font-size="15.8" text-anchor="middle">Training time of enron dataset</text>
</g>
<g class="cap" font-size="35.5">
<text y="774.2"><tspan x="434.50" textLength="46.00" lengthAdjust="spacingAndGlyphs">(d)</tspan> <tspan x="493.50" textLength="130.50" lengthAdjust="spacingAndGlyphs">Training</tspan> <tspan x="637.50" textLength="67.00" lengthAdjust="spacingAndGlyphs">time</tspan> <tspan x="717.50" textLength="30.00" lengthAdjust="spacingAndGlyphs">of</tspan> <tspan x="757.50" textLength="120.00" lengthAdjust="spacingAndGlyphs">genbase</tspan> <tspan x="889.50" textLength="123.00" lengthAdjust="spacingAndGlyphs">dataset.</tspan></text>
<text y="1616.0"><tspan x="458.50" textLength="43.00" lengthAdjust="spacingAndGlyphs">(e)</tspan> <tspan x="513.00" textLength="131.50" lengthAdjust="spacingAndGlyphs">Training</tspan> <tspan x="657.00" textLength="69.50" lengthAdjust="spacingAndGlyphs">time</tspan> <tspan x="736.00" textLength="30.50" lengthAdjust="spacingAndGlyphs">of</tspan> <tspan x="777.50" textLength="86.50" lengthAdjust="spacingAndGlyphs">enron</tspan> <tspan x="876.50" textLength="123.00" lengthAdjust="spacingAndGlyphs">dataset.</tspan></text>
</g>
</svg>
</body></html>
